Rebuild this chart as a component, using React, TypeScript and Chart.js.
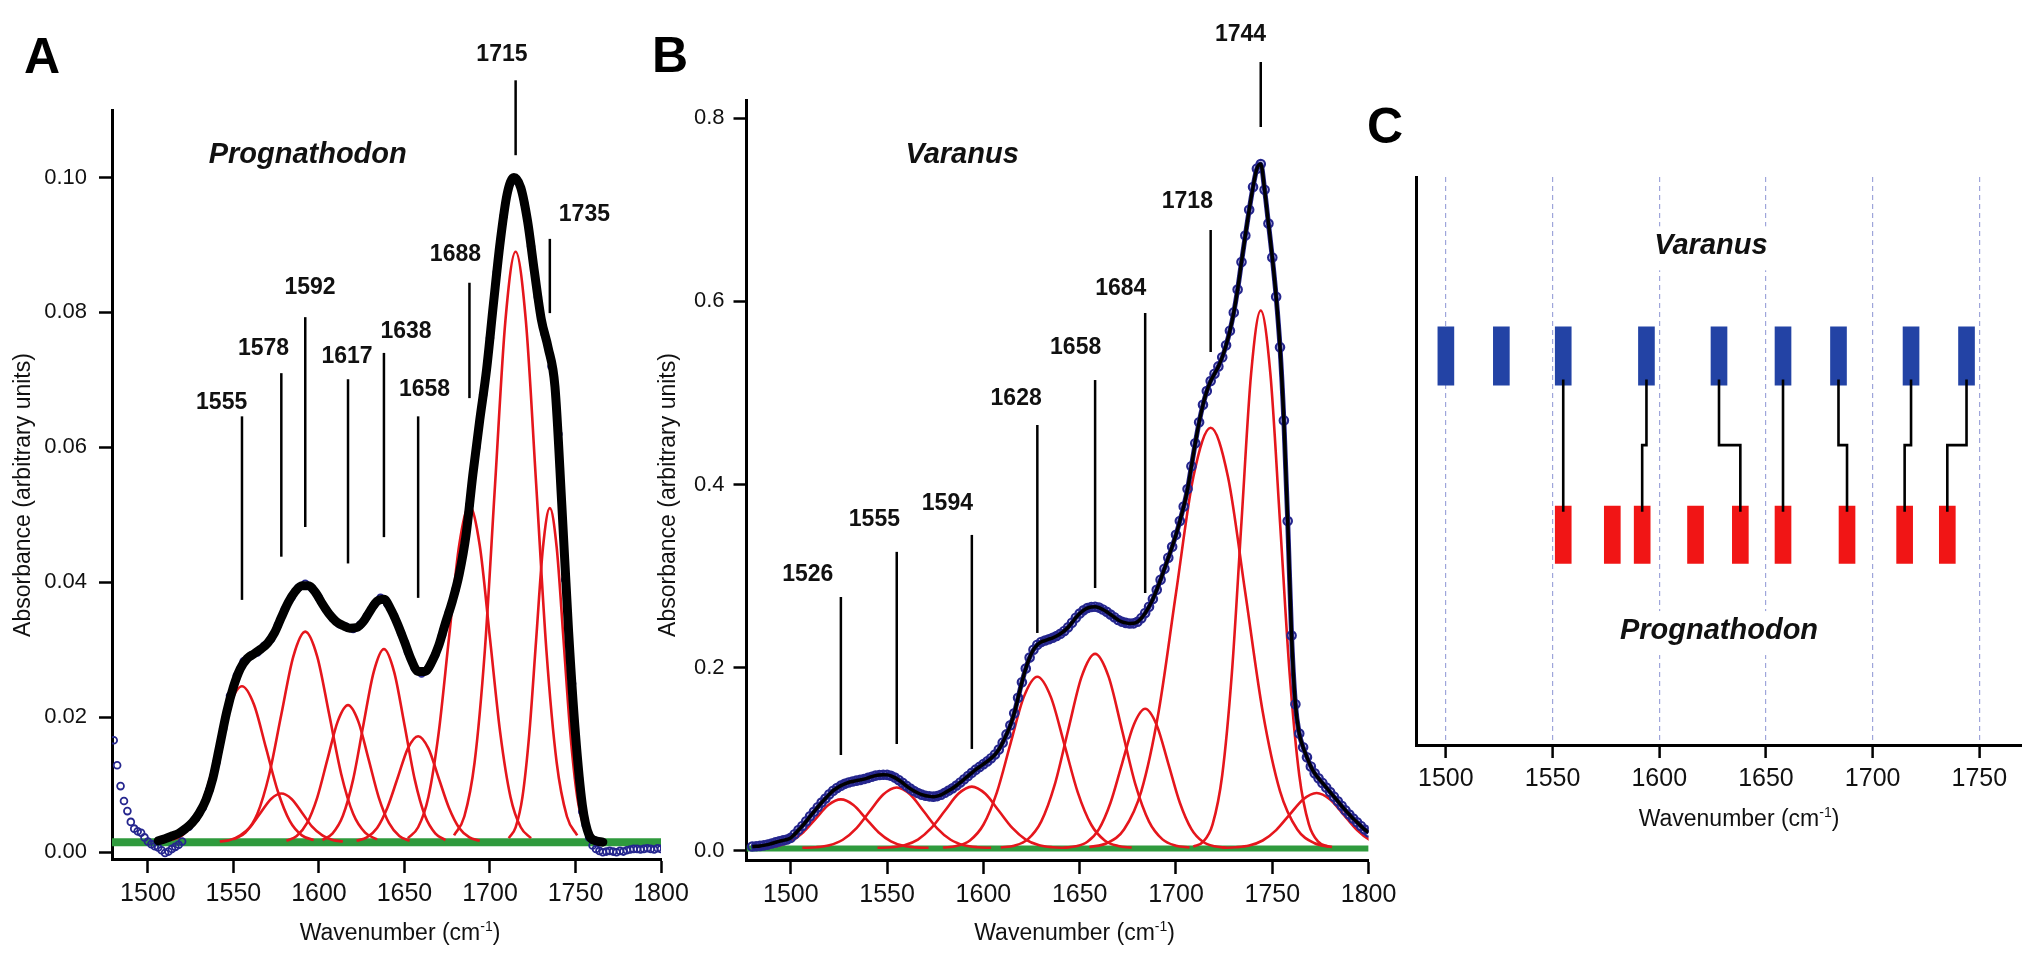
import { useEffect, useRef } from 'react';
import { Chart, registerables } from 'chart.js';

Chart.register(...registerables);

const SANS = '"Liberation Sans", Arial, Helvetica, sans-serif';
const INK = '#111111';
const NAVY = '#25268e';
const RED = '#e5161c';
const GREEN = '#2f9a3d';
const GRID_BLUE = '#9ea5da';
const BAR_BLUE = '#2343a5';
const BAR_RED = '#f11515';

// ---------------- Panel A: Prognathodon ----------------
const xRangeA = [1479, 1800];
const yRangeA = [-0.001, 0.11];
const xTicksA = [1500, 1550, 1600, 1650, 1700, 1750, 1800];
const yTicksA = [0, 0.02, 0.04, 0.06, 0.08, 0.1];
const peaksA = [1555, 1578, 1592, 1617, 1638, 1658, 1688, 1715, 1735];
const baselineA = 0.0015;

// fitted component bands (wavenumber / absorbance samples)
const bandXA = [
  [1513, 1520, 1527, 1534, 1541, 1548, 1555, 1562, 1569, 1576, 1583, 1590, 1597],
  [1542, 1548, 1554, 1560, 1566, 1572, 1578, 1584, 1590, 1596, 1602, 1608, 1614],
  [1550, 1557, 1564, 1571, 1578, 1585, 1592, 1599, 1606, 1613, 1620, 1627, 1634],
  [1581, 1587, 1593, 1599, 1605, 1611, 1617, 1623, 1629, 1635, 1641, 1647, 1653],
  [1602, 1608, 1614, 1620, 1626, 1632, 1638, 1644, 1650, 1656, 1662, 1668, 1674],
  [1622, 1628, 1634, 1640, 1646, 1652, 1658, 1664, 1670, 1676, 1682, 1688, 1694],
  [1652, 1658, 1664, 1670, 1676, 1682, 1688, 1694, 1700, 1706, 1712, 1718, 1724],
  [1679, 1685, 1691, 1697, 1703, 1709, 1715, 1721, 1727, 1733, 1739, 1745, 1751],
  [1711, 1715, 1719, 1723, 1727, 1731, 1735, 1739, 1743, 1747, 1751, 1755, 1759],
];
const bandYA = [
  [0.0018, 0.0025, 0.0046, 0.009, 0.0155, 0.0219, 0.0246, 0.0219, 0.0155, 0.009, 0.0046, 0.0025, 0.0018],
  [0.0016, 0.0018, 0.0025, 0.0038, 0.0059, 0.0079, 0.0087, 0.0079, 0.0059, 0.0038, 0.0025, 0.0018, 0.0016],
  [0.0019, 0.0029, 0.0057, 0.0116, 0.0204, 0.029, 0.0327, 0.029, 0.0204, 0.0116, 0.0057, 0.0029, 0.0019],
  [0.0017, 0.0024, 0.0043, 0.0081, 0.0138, 0.0194, 0.0218, 0.0194, 0.0138, 0.0081, 0.0043, 0.0024, 0.0017],
  [0.0018, 0.0028, 0.0054, 0.0108, 0.0189, 0.0267, 0.0301, 0.0267, 0.0189, 0.0108, 0.0054, 0.0028, 0.0018],
  [0.0017, 0.0022, 0.0036, 0.0066, 0.011, 0.0154, 0.0172, 0.0154, 0.011, 0.0066, 0.0036, 0.0022, 0.0017],
  [0.0021, 0.0037, 0.0082, 0.0177, 0.0317, 0.0455, 0.0513, 0.0455, 0.0317, 0.0177, 0.0082, 0.0037, 0.0021],
  [0.0025, 0.0053, 0.0133, 0.0299, 0.0546, 0.0787, 0.089, 0.0787, 0.0546, 0.0299, 0.0133, 0.0053, 0.0025],
  [0.0021, 0.0037, 0.0082, 0.0176, 0.0315, 0.0452, 0.051, 0.0452, 0.0315, 0.0176, 0.0082, 0.0037, 0.0021],
];

// measured spectrum: 1480–1520 every 2, 1524–1752 every 4, 1754–1800 every 2
const specLeftA = [
  0.0166, 0.0129, 0.0098, 0.0076, 0.0061, 0.0045, 0.0035, 0.0031, 0.0029, 0.0022,
  0.0016, 0.0012, 0.0009, 0.0007, 0.0003, -0.0001, 0.0001, 0.0005, 0.0008, 0.0011,
  0.0016,
];
const specMidA = [
  0.0038, 0.005, 0.0066, 0.0093, 0.0133, 0.0183, 0.0232, 0.0262, 0.0283, 0.0291,
  0.0296, 0.0306, 0.0316, 0.0337, 0.036, 0.0378, 0.0392, 0.0398, 0.0391, 0.0377,
  0.036, 0.0347, 0.0338, 0.0334, 0.0331, 0.0337, 0.035, 0.0366, 0.0377, 0.0368,
  0.035, 0.0325, 0.0297, 0.0273, 0.0265, 0.0273, 0.0293, 0.0322, 0.0356, 0.039,
  0.044, 0.0515, 0.06, 0.0678, 0.0762, 0.086, 0.0943, 0.0992, 0.0995, 0.0962,
  0.0898, 0.0823, 0.0768, 0.072, 0.062, 0.0404, 0.025, 0.011,
];
const specRightA = [
  0.006, 0.004, 0.0022, 0.001, 0.0005, 0.0002, 0.0, 0.0001, 0.0002, 0.0001,
  0.0, 0.0002, 0.0001, 0.0003, 0.0004, 0.0005, 0.0005, 0.0004, 0.0005, 0.0006,
  0.0005, 0.0004, 0.0006, 0.0005,
];
// fitted envelope, 1506–1766 every 4
const fitA = [
  0.0017, 0.002, 0.0024, 0.0028, 0.0035, 0.0044, 0.0058, 0.0078, 0.011, 0.0158,
  0.0207, 0.0245, 0.0272, 0.0287, 0.0294, 0.0301, 0.031, 0.0325, 0.0348, 0.037,
  0.0386, 0.0395, 0.0395, 0.0385, 0.0368, 0.0353, 0.0342, 0.0336, 0.0332, 0.0333,
  0.0342, 0.0358, 0.0372, 0.0375, 0.036, 0.0338, 0.0312, 0.0285, 0.0268, 0.0268,
  0.0282, 0.0306, 0.034, 0.0372, 0.0412, 0.047, 0.056, 0.064, 0.0715, 0.0812,
  0.0905, 0.0975, 0.1, 0.0985, 0.0935, 0.086, 0.079, 0.0748, 0.069, 0.0515,
  0.0326, 0.0175, 0.007, 0.0025, 0.0017, 0.0015,
];

// peak marker placement (absorbance of tick ends, label centres)
const markTopA = [0.0646, 0.071, 0.0793, 0.0701, 0.074, 0.0646, 0.0844, 0.1144, 0.0909];
const markBottomA = [0.0374, 0.0438, 0.0482, 0.0428, 0.0467, 0.0377, 0.0673, 0.1033, 0.0799];
const labelXA = [1543.1, 1567.6, 1594.8, 1616.4, 1650.9, 1661.7, 1679.8, 1707.0, 1755.2];
const labelYA = [0.0666, 0.0746, 0.0837, 0.0735, 0.0772, 0.0685, 0.0885, 0.1182, 0.0945];

// ---------------- Panel B: Varanus ----------------
const xRangeB = [1477, 1800];
const yRangeB = [-0.0102, 0.82];
const xTicksB = [1500, 1550, 1600, 1650, 1700, 1750, 1800];
const yTicksB = [0, 0.2, 0.4, 0.6, 0.8];
const peaksB = [1526, 1555, 1594, 1628, 1658, 1684, 1718, 1744];
const baselineB = 0.0024;

const bandXB = [
  [1480.5, 1487, 1493.5, 1500, 1506.5, 1513, 1519.5, 1526, 1532.5, 1539, 1545.5, 1552, 1558.5, 1565, 1571.5],
  [1506, 1513, 1520, 1527, 1534, 1541, 1548, 1555, 1562, 1569, 1576, 1583, 1590, 1597, 1604],
  [1545, 1552, 1559, 1566, 1573, 1580, 1587, 1594, 1601, 1608, 1615, 1622, 1629, 1636, 1643],
  [1579, 1586, 1593, 1600, 1607, 1614, 1621, 1628, 1635, 1642, 1649, 1656, 1663, 1670, 1677],
  [1609, 1616, 1623, 1630, 1637, 1644, 1651, 1658, 1665, 1672, 1679, 1686, 1693, 1700, 1707],
  [1642, 1648, 1654, 1660, 1666, 1672, 1678, 1684, 1690, 1696, 1702, 1708, 1714, 1720, 1726],
  [1655, 1664, 1673, 1682, 1691, 1700, 1709, 1718, 1727, 1736, 1745, 1754, 1763, 1772, 1781],
  [1709, 1714, 1719, 1724, 1729, 1734, 1739, 1744, 1749, 1754, 1759, 1764, 1769, 1774, 1779],
  [1724, 1731, 1738, 1745, 1752, 1759, 1766, 1773, 1780, 1787, 1794, 1801, 1808, 1815, 1822],
];
const bandYB = [
  [0.0031, 0.0036, 0.0053, 0.0102, 0.0202, 0.0351, 0.0498, 0.056, 0.0498, 0.0351, 0.0202, 0.0102, 0.0053, 0.0036, 0.0031],
  [0.0031, 0.0037, 0.0059, 0.0119, 0.0244, 0.043, 0.0613, 0.069, 0.0613, 0.043, 0.0244, 0.0119, 0.0059, 0.0037, 0.0031],
  [0.0031, 0.0037, 0.0059, 0.0121, 0.0248, 0.0436, 0.0621, 0.07, 0.0621, 0.0436, 0.0248, 0.0121, 0.0059, 0.0037, 0.0031],
  [0.0034, 0.0051, 0.0112, 0.0283, 0.0637, 0.1164, 0.168, 0.19, 0.168, 0.1164, 0.0637, 0.0283, 0.0112, 0.0051, 0.0034],
  [0.0035, 0.0054, 0.0123, 0.0317, 0.0718, 0.1316, 0.1901, 0.215, 0.1901, 0.1316, 0.0718, 0.0317, 0.0123, 0.0054, 0.0035],
  [0.0033, 0.0047, 0.0097, 0.0236, 0.0524, 0.0952, 0.1371, 0.155, 0.1371, 0.0952, 0.0524, 0.0236, 0.0097, 0.0047, 0.0033],
  [0.004, 0.0081, 0.0232, 0.0651, 0.152, 0.2814, 0.4081, 0.462, 0.4081, 0.2814, 0.152, 0.0651, 0.0232, 0.0081, 0.004],
  [0.0043, 0.0095, 0.0288, 0.0824, 0.1936, 0.359, 0.521, 0.59, 0.521, 0.359, 0.1936, 0.0824, 0.0288, 0.0095, 0.0043],
  [0.0031, 0.0037, 0.0056, 0.0111, 0.0225, 0.0394, 0.056, 0.063, 0.056, 0.0394, 0.0225, 0.0111, 0.0056, 0.0037, 0.0031],
];

// measured spectrum, 1480–1800 every 2
const specStartB = 1480;
const specStepB = 2;
const specB = [
  0.0045, 0.0048, 0.0052, 0.0058, 0.0066, 0.0078, 0.009, 0.0102, 0.0112, 0.0122,
  0.014, 0.018, 0.0225, 0.027, 0.032, 0.0375, 0.0425, 0.0475, 0.0525, 0.057,
  0.0615, 0.0655, 0.0685, 0.071, 0.073, 0.0745, 0.0755, 0.0765, 0.0773, 0.0782,
  0.0795, 0.0808, 0.082, 0.0827, 0.083, 0.0828, 0.0818, 0.0798, 0.0772, 0.0742,
  0.0708, 0.0678, 0.0652, 0.063, 0.0612, 0.06, 0.0593, 0.059, 0.0596, 0.061,
  0.0632, 0.0656, 0.0682, 0.0712, 0.0745, 0.078, 0.0815, 0.085, 0.0885, 0.0915,
  0.0945, 0.0975, 0.101, 0.105, 0.1105, 0.118, 0.127, 0.137, 0.15, 0.167,
  0.184, 0.199, 0.211, 0.2195, 0.225, 0.228, 0.2295, 0.231, 0.2325, 0.2345,
  0.237, 0.24, 0.244, 0.249, 0.2545, 0.259, 0.2625, 0.265, 0.2662, 0.2665,
  0.2655, 0.2635, 0.261, 0.258, 0.255, 0.252, 0.25, 0.2488, 0.2482, 0.2483,
  0.25, 0.254, 0.2595, 0.2665, 0.275, 0.285, 0.296, 0.308, 0.32, 0.332,
  0.345, 0.36, 0.376, 0.395, 0.42, 0.445, 0.468, 0.487, 0.502, 0.513,
  0.521, 0.529, 0.539, 0.552, 0.568, 0.588, 0.613, 0.643, 0.672, 0.7,
  0.725, 0.745, 0.75, 0.722, 0.685, 0.648, 0.605, 0.55, 0.47, 0.36,
  0.235, 0.16, 0.128, 0.113, 0.102, 0.092, 0.0845, 0.079, 0.074, 0.069,
  0.064, 0.059, 0.054, 0.049, 0.044, 0.0395, 0.035, 0.031, 0.027, 0.023,
  0.02,
];

const markTopB = [0.2771, 0.3264, 0.3449, 0.465, 0.5141, 0.5873, 0.678, 0.8615];
const markBottomB = [0.1045, 0.1165, 0.1111, 0.2378, 0.2869, 0.2815, 0.5447, 0.7905];
const labelXB = [1508.8, 1543.4, 1581.3, 1617.0, 1647.9, 1671.3, 1705.9, 1733.5];
const labelYB = [0.3011, 0.3612, 0.3787, 0.4934, 0.5496, 0.6141, 0.7091, 0.891];

// ---------------- Panel C: band correspondence ----------------
const xRangeC = [1486, 1770];
const xTicksC = [1500, 1550, 1600, 1650, 1700, 1750];
const varanusBands = [1500, 1526, 1555, 1594, 1628, 1658, 1684, 1718, 1744];
const prognathodonBands = [1555, 1578, 1592, 1617, 1638, 1658, 1688, 1715, 1735];
const linkFromVaranus = [1555, 1594, 1628, 1658, 1684, 1718, 1744];
const linkToPrognathodon = [1555, 1592, 1638, 1658, 1688, 1715, 1735];
// vertical placement of the two rows and the link elbows (0–1 frame)
const rowVaranus = [0.6335, 0.736];
const rowPrognathodon = [0.3197, 0.4206];
const linkElbow = 0.528;

// ---------------- helpers ----------------
const onGrid = (start: number, step: number, ys: number[]) =>
  ys.map((y, i) => ({ x: start + step * i, y }));
const pairs = (xs: number[], ys: number[]) => xs.map((x, i) => ({ x, y: ys[i] }));

const common = {
  responsive: false,
  animation: false,
  devicePixelRatio: 1,
  events: [],
  plugins: { legend: { display: false }, tooltip: { enabled: false } },
};

function axisX(range: number[], ticks: number[], height: number) {
  return {
    type: 'linear',
    min: range[0],
    max: range[1],
    offset: false,
    afterBuildTicks: (s: any) => {
      s.ticks = ticks.map((value) => ({ value }));
    },
    afterFit: (s: any) => {
      s.height = height;
    },
    grid: { drawOnChartArea: false, drawTicks: true, tickLength: 14, tickWidth: 2.5, tickColor: '#000', offset: false },
    border: { display: true, color: '#000', width: 3 },
    ticks: {
      autoSkip: false,
      maxRotation: 0,
      padding: 6,
      color: INK,
      font: { family: SANS, size: 25 },
      callback: (v: any) => String(v),
    },
  };
}

function axisY(range: number[], ticks: number[], width: number, digits: number, pad: number) {
  return {
    type: 'linear',
    min: range[0],
    max: range[1],
    afterBuildTicks: (s: any) => {
      s.ticks = ticks.map((value) => ({ value }));
    },
    afterFit: (s: any) => {
      s.width = width;
    },
    grid: { drawOnChartArea: false, drawTicks: true, tickLength: 13, tickWidth: 2.5, tickColor: '#000' },
    border: { display: true, color: '#000', width: 3 },
    ticks: {
      autoSkip: false,
      padding: pad,
      color: INK,
      font: { family: SANS, size: 22 },
      callback: (v: any) => Number(v).toFixed(digits),
    },
  };
}

function decor(id: string, draw: (chart: any, ctx: CanvasRenderingContext2D) => void) {
  return {
    id,
    afterDraw(chart: any) {
      const ctx = chart.ctx;
      ctx.save();
      draw(chart, ctx);
      ctx.restore();
    },
  };
}

function drawPeakMarks(chart: any, ctx: CanvasRenderingContext2D, peaks: number[], tops: number[], bottoms: number[], lx: number[], ly: number[]) {
  const xs = chart.scales.x;
  const ys = chart.scales.y;
  ctx.strokeStyle = '#000';
  ctx.lineWidth = 2.5;
  ctx.fillStyle = INK;
  ctx.font = `bold 23px ${SANS}`;
  ctx.textAlign = 'center';
  ctx.textBaseline = 'middle';
  peaks.forEach((p, i) => {
    const px = xs.getPixelForValue(p);
    ctx.beginPath();
    ctx.moveTo(px, ys.getPixelForValue(tops[i]));
    ctx.lineTo(px, ys.getPixelForValue(bottoms[i]));
    ctx.stroke();
    ctx.fillText(String(p), xs.getPixelForValue(lx[i]), ys.getPixelForValue(ly[i]));
  });
}

function drawLetter(ctx: CanvasRenderingContext2D, letter: string, x: number, baseline: number) {
  ctx.fillStyle = '#000';
  ctx.font = `bold 50px ${SANS}`;
  ctx.textAlign = 'left';
  ctx.textBaseline = 'alphabetic';
  ctx.fillText(letter, x, baseline);
}

function drawYTitle(ctx: CanvasRenderingContext2D, cx: number, cy: number) {
  ctx.save();
  ctx.translate(cx, cy);
  ctx.rotate(-Math.PI / 2);
  ctx.font = `23px ${SANS}`;
  ctx.fillStyle = INK;
  ctx.textAlign = 'center';
  ctx.textBaseline = 'middle';
  ctx.fillText('Absorbance (arbitrary units)', 0, 0);
  ctx.restore();
}

function drawXTitle(ctx: CanvasRenderingContext2D, cx: number, cy: number) {
  const main = `23px ${SANS}`;
  const sup = `14px ${SANS}`;
  const head = 'Wavenumber (cm';
  ctx.fillStyle = INK;
  ctx.textAlign = 'left';
  ctx.textBaseline = 'alphabetic';
  ctx.font = main;
  const wa = ctx.measureText(head).width;
  const wc = ctx.measureText(')').width;
  ctx.font = sup;
  const wb = ctx.measureText('-1').width;
  let x = cx - (wa + wb + wc) / 2;
  const base = cy + 8;
  ctx.font = main;
  ctx.fillText(head, x, base);
  x += wa;
  ctx.font = sup;
  ctx.fillText('-1', x, base - 9);
  x += wb;
  ctx.font = main;
  ctx.fillText(')', x, base);
}

function speciesLabel(ctx: CanvasRenderingContext2D, text: string, x: number, y: number, align: CanvasTextAlign, backdrop: boolean) {
  ctx.font = `italic bold 29px ${SANS}`;
  ctx.textAlign = align;
  ctx.textBaseline = 'middle';
  if (backdrop) {
    const w = ctx.measureText(text).width;
    ctx.fillStyle = '#fff';
    ctx.fillRect(x - w / 2 - 4, y - 20, w + 8, 44);
  }
  ctx.fillStyle = INK;
  ctx.fillText(text, x, y);
}

// ---------------- charts ----------------
function buildA(canvas: HTMLCanvasElement) {
  const bands = bandXA.map((xs, i) => ({
    data: pairs(xs, bandYA[i]),
    borderColor: RED,
    borderWidth: 2.6,
    pointRadius: 0,
    cubicInterpolationMode: 'monotone',
    order: 2,
  }));
  return new Chart(canvas, {
    type: 'line',
    data: {
      datasets: [
        {
          data: onGrid(1506, 4, fitA),
          borderColor: '#000',
          borderWidth: 9,
          borderJoinStyle: 'round',
          borderCapStyle: 'round',
          pointRadius: 0,
          cubicInterpolationMode: 'monotone',
          order: 0,
        },
        {
          data: [...onGrid(1480, 2, specLeftA), ...onGrid(1524, 4, specMidA), ...onGrid(1754, 2, specRightA)],
          showLine: false,
          pointRadius: 3.4,
          pointBorderWidth: 1.8,
          pointBorderColor: NAVY,
          pointBackgroundColor: 'rgba(255,255,255,0)',
          order: 1,
        },
        ...bands,
        {
          data: [
            { x: xRangeA[0], y: baselineA },
            { x: xRangeA[1], y: baselineA },
          ],
          borderColor: GREEN,
          borderWidth: 8,
          pointRadius: 0,
          order: 3,
        },
      ],
    },
    options: {
      ...common,
      layout: { padding: { left: 0, top: 110, right: 39, bottom: 0 } },
      scales: { x: axisX(xRangeA, xTicksA, 99), y: axisY(yRangeA, yTicksA, 112, 2, 12) },
    },
    plugins: [
      decor('decorA', (chart, ctx) => {
        drawPeakMarks(chart, ctx, peaksA, markTopA, markBottomA, labelXA, labelYA);
        const { x, y } = chart.scales;
        ctx.textBaseline = 'alphabetic';
        ctx.font = `italic bold 29px ${SANS}`;
        ctx.textAlign = 'left';
        ctx.fillStyle = INK;
        ctx.fillText('Prognathodon', x.getPixelForValue(1535.5), y.getPixelForValue(0.1021));
        drawLetter(ctx, 'A', 24, 73);
        drawYTitle(ctx, 24, 495);
        drawXTitle(ctx, 400, 932);
      }),
    ],
  } as any);
}

function buildB(canvas: HTMLCanvasElement) {
  const spectrum = onGrid(specStartB, specStepB, specB);
  const bands = bandXB.map((xs, i) => ({
    data: pairs(xs, bandYB[i]),
    borderColor: RED,
    borderWidth: 2.6,
    pointRadius: 0,
    cubicInterpolationMode: 'monotone',
    order: 2,
  }));
  return new Chart(canvas, {
    type: 'line',
    data: {
      datasets: [
        {
          data: spectrum,
          borderColor: '#000',
          borderWidth: 3.5,
          borderJoinStyle: 'round',
          pointRadius: 0,
          cubicInterpolationMode: 'monotone',
          order: 0,
        },
        {
          data: spectrum,
          showLine: true,
          borderColor: NAVY,
          borderWidth: 5,
          cubicInterpolationMode: 'monotone',
          pointRadius: 4.2,
          pointBorderWidth: 2.2,
          pointBorderColor: NAVY,
          pointBackgroundColor: 'rgba(255,255,255,0)',
          order: 1,
        },
        ...bands,
        {
          data: [
            { x: xRangeB[0], y: baselineB },
            { x: xRangeB[1], y: baselineB },
          ],
          borderColor: GREEN,
          borderWidth: 6,
          pointRadius: 0,
          order: 3,
        },
      ],
    },
    options: {
      ...common,
      layout: { padding: { left: 0, top: 100, right: 61.4, bottom: 0 } },
      scales: { x: axisX(xRangeB, xTicksB, 98), y: axisY(yRangeB, yTicksB, 106.5, 1, 9) },
    },
    plugins: [
      decor('decorB', (chart, ctx) => {
        drawPeakMarks(chart, ctx, peaksB, markTopB, markBottomB, labelXB, labelYB);
        const { x, y } = chart.scales;
        ctx.textBaseline = 'alphabetic';
        ctx.font = `italic bold 29px ${SANS}`;
        ctx.textAlign = 'left';
        ctx.fillStyle = INK;
        ctx.fillText('Varanus', x.getPixelForValue(1559.5), y.getPixelForValue(0.7512));
        drawLetter(ctx, 'B', 12, 72);
        drawYTitle(ctx, 29, 495);
        drawXTitle(ctx, 434.6, 932);
      }),
    ],
  } as any);
}

function buildC(canvas: HTMLCanvasElement) {
  const links = linkFromVaranus.map((from, i) => ({
    type: 'line',
    data: [
      { x: from, y: rowVaranus[0] + 0.01 },
      { x: from, y: linkElbow },
      { x: linkToPrognathodon[i], y: linkElbow },
      { x: linkToPrognathodon[i], y: rowPrognathodon[1] - 0.01 },
    ],
    borderColor: '#000',
    borderWidth: 2.6,
    pointRadius: 0,
    tension: 0,
    order: 0,
  }));
  const xAxis: any = axisX(xRangeC, xTicksC, 213);
  xAxis.grid = {
    display: true,
    drawOnChartArea: true,
    color: GRID_BLUE,
    lineWidth: 1.2,
    drawTicks: true,
    tickLength: 13,
    tickWidth: 2.5,
    tickColor: '#000',
    tickBorderDash: [],
    offset: false,
  };
  xAxis.border = { display: true, color: '#000', width: 3, dash: [5, 4] };
  return new Chart(canvas, {
    type: 'bar',
    data: {
      datasets: [
        ...links,
        {
          type: 'bar',
          data: varanusBands.map((x) => ({ x, y: [rowVaranus[0], rowVaranus[1]] })),
          backgroundColor: BAR_BLUE,
          borderWidth: 0,
          barThickness: 16,
          grouped: false,
          order: 1,
        },
        {
          type: 'bar',
          data: prognathodonBands.map((x) => ({ x, y: [rowPrognathodon[0], rowPrognathodon[1]] })),
          backgroundColor: BAR_RED,
          borderWidth: 0,
          barThickness: 16,
          grouped: false,
          order: 1,
        },
      ],
    },
    options: {
      ...common,
      layout: { padding: { left: 0, top: 177, right: 0, bottom: 0 } },
      scales: {
        x: xAxis,
        y: {
          type: 'linear',
          min: 0,
          max: 1,
          afterFit: (s: any) => {
            s.width = 76;
          },
          grid: { display: false },
          ticks: { display: false },
          border: { display: true, color: '#000', width: 3 },
        },
      },
    },
    plugins: [
      decor('decorC', (chart, ctx) => {
        const { x, y } = chart.scales;
        speciesLabel(ctx, 'Varanus', x.getPixelForValue(1624.2), y.getPixelForValue(0.878), 'center', true);
        speciesLabel(ctx, 'Prognathodon', x.getPixelForValue(1628), y.getPixelForValue(0.2006), 'center', true);
        drawLetter(ctx, 'C', 27, 143);
        drawXTitle(ctx, 399, 818);
      }),
    ],
  } as any);
}

function ChartCanvas({ left, width, build }: { left: number; width: number; build: (c: HTMLCanvasElement) => Chart }) {
  const ref = useRef<HTMLCanvasElement>(null);
  useEffect(() => {
    const chart = build(ref.current as HTMLCanvasElement);
    return () => chart.destroy();
  }, [build]);
  return (
    <canvas
      ref={ref}
      width={width}
      height={958}
      style={{ position: 'absolute', left, top: 0, width, height: 958 }}
    />
  );
}

export default function App() {
  return (
    <div style={{ position: 'absolute', left: 0, top: 0, width: 2022, height: 958, background: '#fff', overflow: 'hidden' }}>
      <ChartCanvas left={0} width={700} build={buildA} />
      <ChartCanvas left={640} width={790} build={buildB} />
      <ChartCanvas left={1340} width={682} build={buildC} />
    </div>
  );
}
